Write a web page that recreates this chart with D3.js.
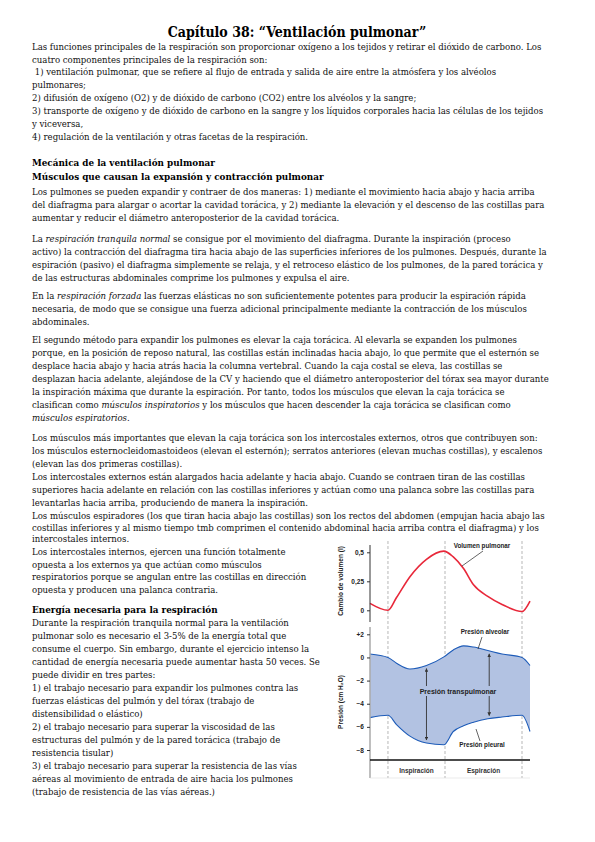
<!DOCTYPE html>
<html><head><meta charset="utf-8">
<script src="https://cdn.jsdelivr.net/npm/d3@7"></script>
<style>body{margin:0;background:#fff}svg{display:block}</style>
</head><body>
<script>
// ---------- DATA ----------
const times = [-0.63, 0, 0.3, 0.77, 1.35, 1.96, 2.29, 2.65, 3.0, 3.5, 4.0, 4.7, 4.98];
const volume = [0.06, 0, 0.11, 0.29, 0.44, 0.51, 0.46, 0.36, 0.22, 0.12, 0.05, -0.01, 0.08];
const alveolar = [0.3, 0, -0.5, -1.0, -0.7, 0.05, 0.65, 1.0, 0.9, 0.6, 0.3, 0, -0.7];
const pleural = [-5.2, -5.0, -5.8, -6.8, -7.4, -7.55, -6.4, -5.9, -5.6, -5.3, -5.15, -5.0, -6.4];
const volTicks = [0, 0.25, 0.5];
const volTickLabels = ["0", "0,25", "0,5"];
const presTicks = [2, 0, -2, -4, -6, -8];
const presTickLabels = ["+2", "0", "\u22122", "\u22124", "\u22126", "\u22128"];
const phaseBounds = [0, 2, 4.7];
const phases = [{name:"Inspiración", a:0, b:2}, {name:"Espiración", a:2, b:4.7}];
const arrowTimes = [1.35, 3.55];

const body = [
 [50, "Las funciones principales de la respiración son proporcionar oxígeno a los tejidos y retirar el dióxido de carbono. Los"],
 [62.5, "cuatro componentes principales de la respiración son:"],
 [75, " 1) ventilación pulmonar, que se refiere al flujo de entrada y salida de aire entre la atmósfera y los alvéolos"],
 [88, "pulmonares;"],
 [101, "2) difusión de oxígeno (O2) y de dióxido de carbono (CO2) entre los alvéolos y la sangre;"],
 [114, "3) transporte de oxígeno y de dióxido de carbono en la sangre y los líquidos corporales hacia las células de los tejidos"],
 [127, "y viceversa,"],
 [140, "4) regulación de la ventilación y otras facetas de la respiración."],
 [195, "Los pulmones se pueden expandir y contraer de dos maneras: 1) mediante el movimiento hacia abajo y hacia arriba"],
 [208, "del diafragma para alargar o acortar la cavidad torácica, y 2) mediante la elevación y el descenso de las costillas para"],
 [221, "aumentar y reducir el diámetro anteroposterior de la cavidad torácica."],
 [242, ["La ", ["respiración tranquila normal"], " se consigue por el movimiento del diafragma. Durante la inspiración (proceso"]],
 [255, "activo) la contracción del diafragma tira hacia abajo de las superficies inferiores de los pulmones. Después, durante la"],
 [268, "espiración (pasivo) el diafragma simplemente se relaja, y el retroceso elástico de los pulmones, de la pared torácica y"],
 [281, "de las estructuras abdominales comprime los pulmones y expulsa el aire."],
 [299, ["En la ", ["respiración forzada"], " las fuerzas elásticas no son suficientemente potentes para producir la espiración rápida"]],
 [312, "necesaria, de modo que se consigue una fuerza adicional principalmente mediante la contracción de los músculos"],
 [325, "abdominales."],
 [343, "El segundo método para expandir los pulmones es elevar la caja torácica. Al elevarla se expanden los pulmones"],
 [356, "porque, en la posición de reposo natural, las costillas están inclinadas hacia abajo, lo que permite que el esternón se"],
 [369, "desplace hacia abajo y hacia atrás hacia la columna vertebral. Cuando la caja costal se eleva, las costillas se"],
 [382, "desplazan hacia adelante, alejándose de la CV y haciendo que el diámetro anteroposterior del tórax sea mayor durante"],
 [395, "la inspiración máxima que durante la espiración. Por tanto, todos los músculos que elevan la caja torácica se"],
 [408, ["clasifican como ", ["músculos inspiratorios"], " y los músculos que hacen descender la caja torácica se clasifican como"]],
 [421, [["músculos espiratorios"], "."]],
 [441, "Los músculos más importantes que elevan la caja torácica son los intercostales externos, otros que contribuyen son:"],
 [454, "los músculos esternocleidomastoideos (elevan el esternón); serratos anteriores (elevan muchas costillas), y escalenos"],
 [467, "(elevan las dos primeras costillas)."],
 [480, "Los intercostales externos están alargados hacia adelante y hacia abajo. Cuando se contraen tiran de las costillas"],
 [493, "superiores hacia adelante en relación con las costillas inferiores y actúan como una palanca sobre las costillas para"],
 [506, "levantarlas hacia arriba, produciendo de manera la inspiración."],
 [519, "Los músculos espiradores (los que tiran hacia abajo las costillas) son los rectos del abdomen (empujan hacia abajo las"],
 [531, "costillas inferiores y al mismo tiempo tmb comprimen el contenido abdominal hacia arriba contra el diafragma) y los"],
 [542, "intercostales internos."],
 [555, "Los intercostales internos, ejercen una función totalmente"],
 [567.5, "opuesta a los externos ya que actúan como músculos"],
 [580, "respiratorios porque se angulan entre las costillas en dirección"],
 [593, "opuesta y producen una palanca contraria."],
 [626, "Durante la respiración tranquila normal para la ventilación"],
 [639, "pulmonar solo es necesario el 3-5% de la energía total que"],
 [652, "consume el cuerpo. Sin embargo, durante el ejercicio intenso la"],
 [665, "cantidad de energía necesaria puede aumentar hasta 50 veces. Se"],
 [678, "puede dividir en tres partes:"],
 [691, "1) el trabajo necesario para expandir los pulmones contra las"],
 [704, "fuerzas elásticas del pulmón y del tórax (trabajo de"],
 [717, "distensibilidad o elástico)"],
 [730, "2) el trabajo necesario para superar la viscosidad de las"],
 [743, "estructuras del pulmón y de la pared torácica (trabajo de"],
 [756, "resistencia tisular)"],
 [769, "3) el trabajo necesario para superar la resistencia de las vías"],
 [782, "aéreas al movimiento de entrada de aire hacia los pulmones"],
 [795, "(trabajo de resistencia de las vías aéreas.)"]
];
const headings = [[166, "Mecánica de la ventilación pulmonar"], [180, "Músculos que causan la expansión y contracción pulmonar"], [613, "Energía necesaria para la respiración"]];

// ---------- DRAW ----------
const svg = d3.select("body").append("svg").attr("width", 595).attr("height", 842);
const serif = "'DejaVu Serif Condensed','DejaVu Serif',serif";

svg.append("text").attr("x", 297).attr("y", 37).attr("text-anchor", "middle")
  .attr("font-family", serif).attr("font-weight", "bold").attr("font-size", 14).text("Capítulo 38: “Ventilación pulmonar”");

headings.forEach(([y, t]) => svg.append("text").attr("x", 32).attr("y", y).attr("font-family", serif)
  .attr("font-weight", "bold").attr("font-size", 9.8).text(t));

body.forEach(([y, c]) => {
  const t = svg.append("text").attr("x", 32).attr("y", y).attr("font-family", serif).attr("font-size", 9.5)
    .attr("fill", "#111").attr("xml:space", "preserve").style("white-space", "pre");
  const parts = typeof c === "string" ? [c] : c;
  parts.forEach(p => {
    if (Array.isArray(p)) t.append("tspan").attr("font-style", "italic").text(p[0]);
    else t.append("tspan").text(p);
  });
});

// ---------- CHART ----------
const sans = "'Liberation Sans', Arial, sans-serif";
const x = d3.scaleLinear().domain([-0.63, 4.98]).range([370, 530]);
const yV = d3.scaleLinear().domain([0, 0.5]).range([610.3, 552.3]);
const yP = d3.scaleLinear().domain([-8, 2]).range([750, 634.3]);
const g = svg.append("g");

phaseBounds.forEach(t => g.append("line").attr("x1", x(t)).attr("x2", x(t)).attr("y1", 541).attr("y2", 778)
  .attr("stroke", "#999").attr("stroke-width", 0.7).attr("stroke-dasharray", "3,2"));

const idx = d3.range(times.length);
g.append("path").datum(idx)
  .attr("d", d3.area().x(i => x(times[i])).y0(i => yP(pleural[i])).y1(i => yP(alveolar[i])).curve(d3.curveMonotoneX))
  .attr("fill", "#b2c2e2");
[alveolar, pleural].forEach(s => g.append("path").datum(idx)
  .attr("d", d3.line().x(i => x(times[i])).y(i => yP(s[i])).curve(d3.curveMonotoneX))
  .attr("fill", "none").attr("stroke", "#1d5bb8").attr("stroke-width", 1.1));

g.append("path").datum(idx)
  .attr("d", d3.line().x(i => x(times[i])).y(i => yV(volume[i])).curve(d3.curveMonotoneX))
  .attr("fill", "none").attr("stroke", "#e8283a").attr("stroke-width", 1.6);

const axV = g.append("g").attr("transform", "translate(370,0)")
  .call(d3.axisLeft(yV).tickValues(volTicks).tickSize(3).tickFormat((d, i) => volTickLabels[i]));
axV.select(".domain").attr("d", "M0,545V622").attr("stroke", "#333");
const axP = g.append("g").attr("transform", "translate(370,0)")
  .call(d3.axisLeft(yP).tickValues(presTicks).tickSize(3).tickFormat((d, i) => presTickLabels[i]));
axP.select(".domain").attr("d", "M0,627V778").attr("stroke", "#aaa").attr("stroke-width", 1.5);
[axV, axP].forEach(a => a.selectAll("text").attr("font-family", sans).attr("font-size", 6.5).attr("font-weight", "bold").attr("fill", "#222"));
axV.selectAll("line").attr("stroke", "#333");
axP.selectAll(".tick line").attr("stroke", "#333");

g.append("line").attr("x1", 370).attr("x2", 530).attr("y1", 760).attr("y2", 760).attr("stroke", "#111").attr("stroke-width", 1.3);
g.append("line").attr("x1", 370).attr("x2", 530).attr("y1", 778).attr("y2", 778).attr("stroke", "#ddd").attr("stroke-width", 0.6);
phases.forEach(p => g.append("text").attr("x", x((p.a + p.b) / 2)).attr("y", 773).attr("text-anchor", "middle")
  .attr("font-family", sans).attr("font-size", 6.5).attr("font-weight", "bold").attr("fill", "#333").text(p.name));

[["Cambio de volumen (l)", 581], ["Presión (cm H\u2082O)", 702]].forEach(([t, cy]) =>
  g.append("text").attr("transform", `translate(343,${cy}) rotate(-90)`).attr("text-anchor", "middle")
    .attr("font-family", sans).attr("font-size", 6.5).attr("font-weight", "bold").attr("fill", "#222").text(t));

const defs = svg.append("defs");
defs.append("marker").attr("id", "ah").attr("viewBox", "0 0 10 10").attr("refX", 9).attr("refY", 5)
  .attr("markerWidth", 4).attr("markerHeight", 4).attr("orient", "auto-start-reverse")
  .append("path").attr("d", "M0,0L10,5L0,10z").attr("fill", "#333");
const interp = (s, t) => { const i = d3.bisectRight(times, t) - 1; const f = (t - times[i]) / (times[i + 1] - times[i]); return s[i] + f * (s[i + 1] - s[i]); };
arrowTimes.forEach(t => g.append("line").attr("x1", x(t)).attr("x2", x(t))
  .attr("y1", yP(interp(alveolar, t)) + 3).attr("y2", yP(interp(pleural, t)) - 3)
  .attr("stroke", "#333").attr("stroke-width", 0.9).attr("marker-start", "url(#ah)").attr("marker-end", "url(#ah)"));

const lbl = (t, px, py, fs) => g.append("text").attr("x", px).attr("y", py).attr("text-anchor", "middle")
  .attr("font-family", sans).attr("font-size", fs || 6.3).attr("font-weight", "bold").attr("fill", "#222").text(t);
g.append("rect").attr("x", 417).attr("y", 686).attr("width", 84).attr("height", 10).attr("fill", "#b2c2e2");
lbl("Presión transpulmonar", 458, 694, 7);
lbl("Volumen pulmonar", 482, 548);
lbl("Presión alveolar", 485, 634);
lbl("Presión pleural", 482, 747);
[[483, 551, 462, 566], [482, 637, 478, 649], [480, 741, 476, 729]].forEach(([a, b, c, d]) =>
  g.append("line").attr("x1", a).attr("y1", b).attr("x2", c).attr("y2", d).attr("stroke", "#222").attr("stroke-width", 0.7));
</script>
</body></html>
